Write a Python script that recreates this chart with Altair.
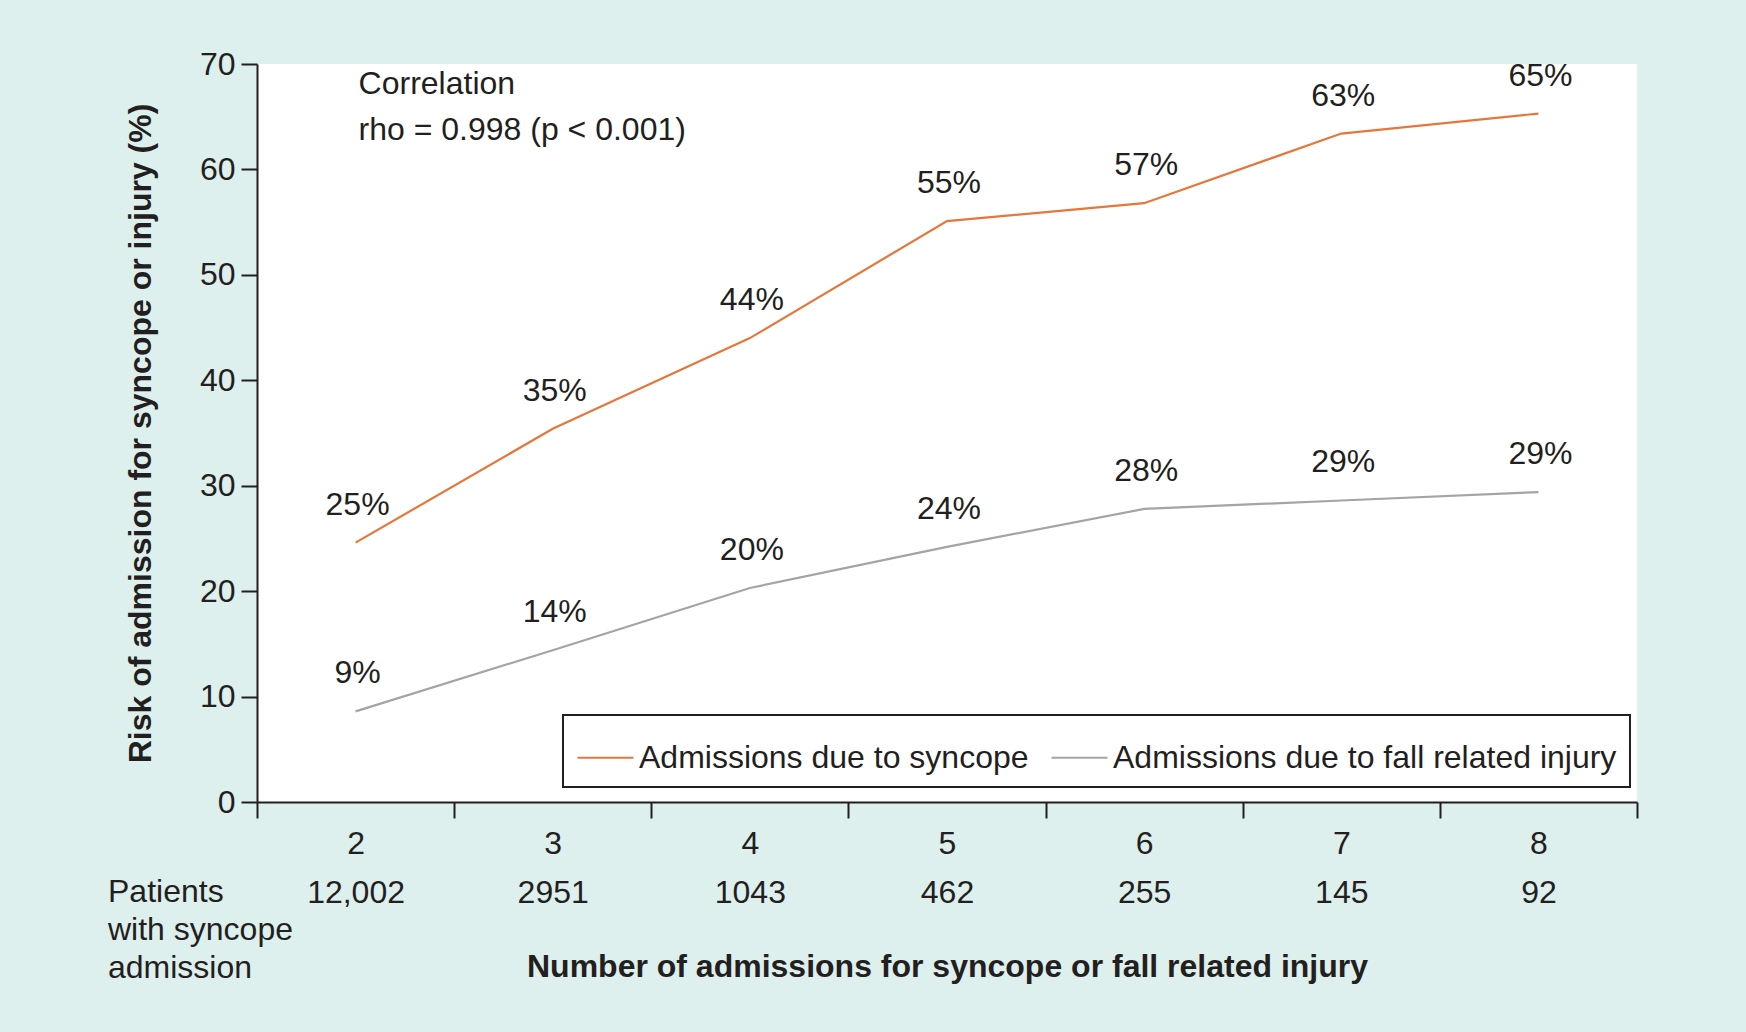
import json

import altair as alt
import pandas as pd

# Number of admissions (x categories) and risk of a further admission (%)
admissions = [2, 3, 4, 5, 6, 7, 8]
syncope_risk = [24.6, 35.4, 44.0, 55.1, 56.8, 63.4, 65.3]
injury_risk = [8.6, 14.4, 20.3, 24.2, 27.8, 28.6, 29.4]

# Patients with a syncope admission at each admission count
patients = ["12,002", "2951", "1043", "462", "255", "145", "92"]

series_names = ["Admissions due to syncope", "Admissions due to fall related injury"]
series_colors = ["#e5773a", "#a4a4a4"]

x_boundaries = [1.5, 2.5, 3.5, 4.5, 5.5, 6.5, 7.5, 8.5]
y_ticks = [0, 10, 20, 30, 40, 50, 60, 70]

note_lines = ["Correlation", "rho = 0.998 (p < 0.001)"]
row_header = ["Patients", "with syncope", "admission"]

FONT = "Liberation Sans"
INK = "#231f20"
BG = "#ddf0ed"
FS = 32

rows = []
for name, values in zip(series_names, [syncope_risk, injury_risk]):
    for a, v in zip(admissions, values):
        rows.append({"series": name, "admissions": a, "risk": v,
                     "label": f"{round(v)}%"})
df = pd.DataFrame(rows)

x_scale = alt.Scale(domain=[x_boundaries[0], x_boundaries[-1]], nice=False, zero=False)
y_scale = alt.Scale(domain=[y_ticks[0], y_ticks[-1]], nice=False)

counts_js = json.dumps(patients)
x_axis = alt.Axis(
    values=sorted(x_boundaries + admissions),
    title="Number of admissions for syncope or fall related injury",
    titleFontWeight="bold",
    titleFontSize=FS,
    titleColor=INK,
    titlePadding=43,
    labelExpr=(
        "datum.value % 1 == 0 ? [format(datum.value, 'd'), "
        f"{counts_js}[datum.value - 2]] : ''"
    ),
    labelFontSize=FS,
    labelColor=INK,
    labelLineHeight=49,
    labelPadding=10,
    labelOverlap=False,
    labelFlush=False,
    labelBound=False,
    tickSize=16,
    tickWidth=2,
    tickColor=INK,
    tickOpacity={"condition": {"test": "datum.value % 1 == 0", "value": 0}, "value": 1},
    domainColor=INK,
    domainWidth=2,
    grid=False,
)

y_axis = alt.Axis(
    values=y_ticks,
    title="Risk of admission for syncope or injury (%)",
    titleFontWeight="bold",
    titleFontSize=FS,
    titleColor=INK,
    titlePadding=42,
    labelFontSize=FS,
    labelColor=INK,
    labelPadding=6,
    tickSize=16,
    tickWidth=2,
    tickColor=INK,
    domainColor=INK,
    domainWidth=2,
    grid=False,
)

color = alt.Color(
    "series:N",
    scale=alt.Scale(domain=series_names, range=series_colors),
    legend=alt.Legend(
        orient="none",
        legendX=306,
        legendY=651,
        direction="horizontal",
        title=None,
        strokeColor=INK,
        padding=13,
        labelFontSize=FS,
        labelColor=INK,
        labelLimit=2000,
        labelOffset=4,
        columnPadding=18,
        symbolType="stroke",
        symbolSize=3136,
        symbolStrokeWidth=2.2,
    ),
)

base = alt.Chart(df)

lines = base.mark_line(strokeWidth=2.2).encode(
    x=alt.X("admissions:Q", scale=x_scale, axis=x_axis),
    y=alt.Y("risk:Q", scale=y_scale, axis=y_axis),
    color=color,
)

labels = base.mark_text(
    dy=-38, dx=2, fontSize=FS, color=INK, align="center", baseline="middle"
).encode(
    x=alt.X("admissions:Q", scale=x_scale),
    y=alt.Y("risk:Q", scale=y_scale),
    text="label:N",
)

anchor = pd.DataFrame({"x": [admissions[0]], "y": [y_ticks[-1]],
                       "x0": [x_boundaries[0]], "y0": [y_ticks[0]]})

note = alt.Chart(anchor).mark_text(
    text=note_lines, align="left", baseline="middle", fontSize=FS,
    color=INK, lineHeight=46, dx=3, dy=20,
).encode(
    x=alt.X("x:Q", scale=x_scale),
    y=alt.Y("y:Q", scale=y_scale),
)

header = alt.Chart(anchor).mark_text(
    text=row_header, align="left", baseline="middle", fontSize=FS,
    color=INK, lineHeight=38, dx=-149, dy=90,
).encode(
    x=alt.X("x0:Q", scale=x_scale),
    y=alt.Y("y0:Q", scale=y_scale),
)

chart = (
    alt.layer(lines, labels, note, header)
    .properties(
        width=1380,
        height=738,
        background=BG,
        padding={"left": 257, "top": 64, "right": 109, "bottom": 230},
        autosize=alt.AutoSizeParams(type="none"),
    )
    .configure(font=FONT)
    .configure_view(fill="white", stroke=None)
    .configure_legend(strokeWidth=2)
)

chart.save("out.html", embed_options={"renderer": "svg", "actions": False})
